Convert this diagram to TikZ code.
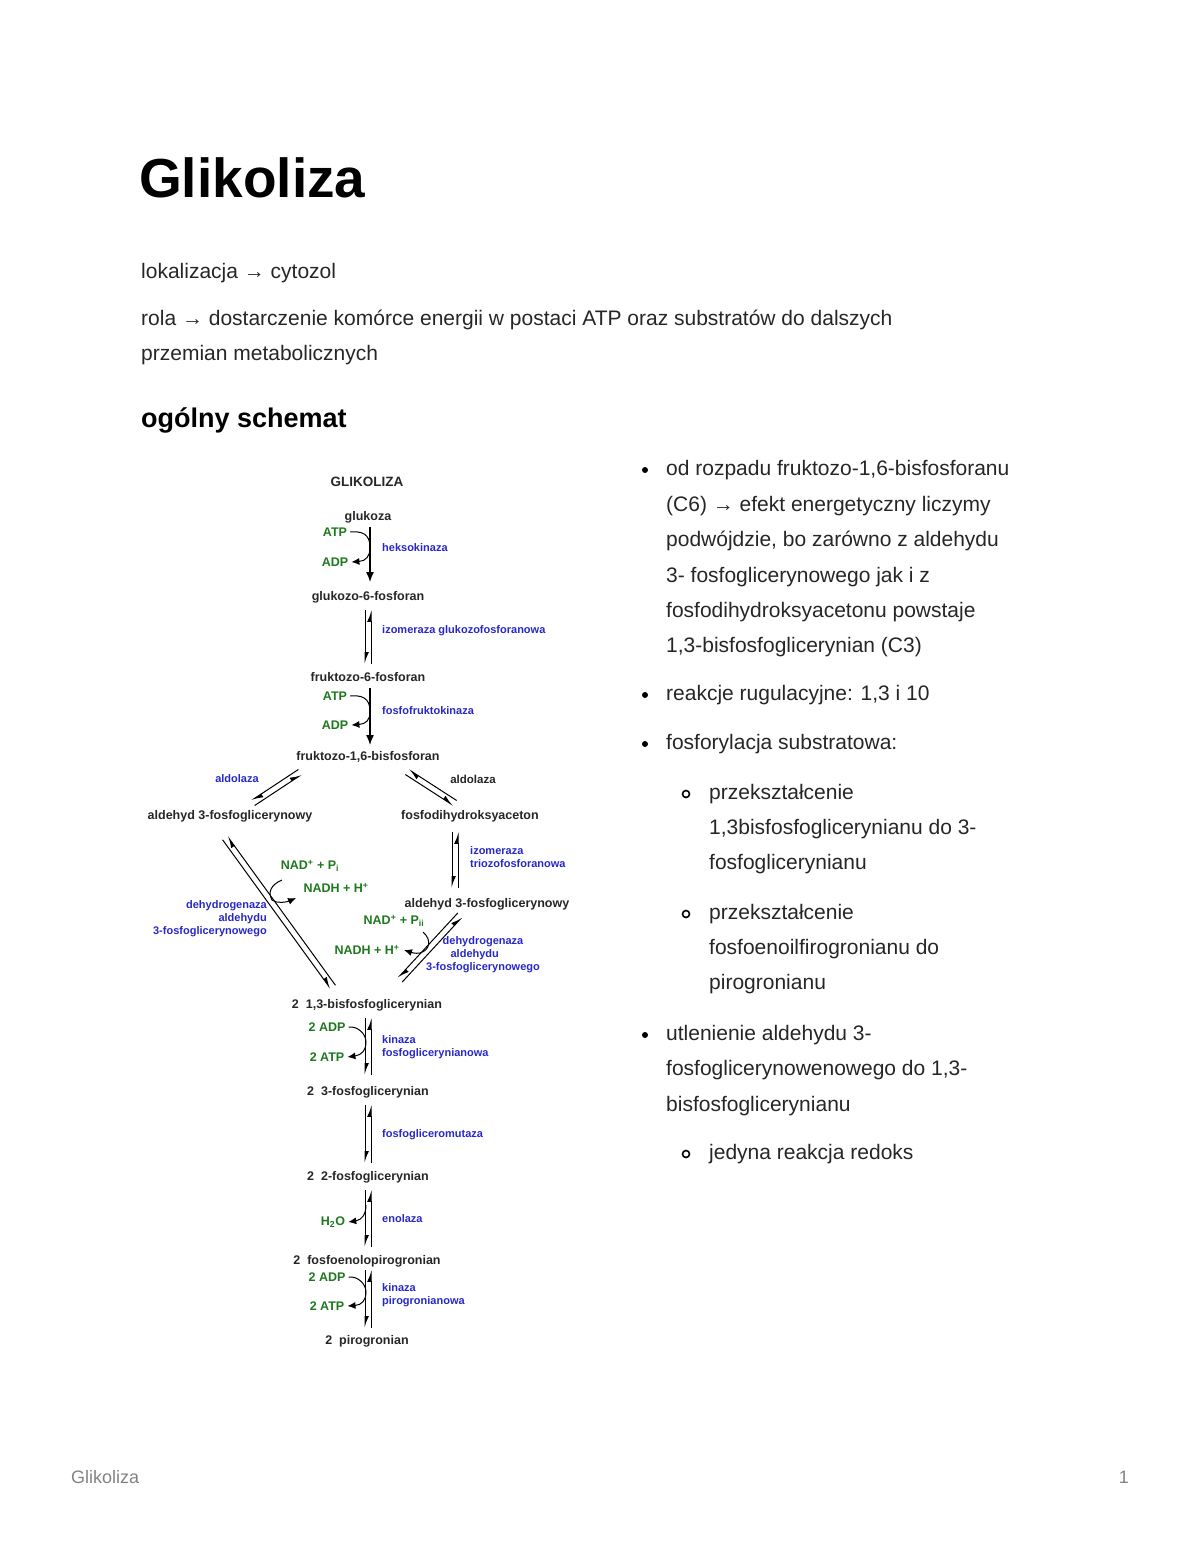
\documentclass[tikz,border=0pt]{standalone}
\usepackage{fontspec}
\setmainfont{Liberation Sans}
\usetikzlibrary{arrows.meta,calc}
\definecolor{enz}{RGB}{40,40,200}
\definecolor{cof}{RGB}{30,120,30}
\definecolor{foot}{RGB}{130,130,130}
\tikzset{
 body/.style={anchor=west,inner sep=0,font=\fontsize{21}{25}\selectfont,text=black!85},
 met/.style={inner sep=0,font=\fontsize{12.5}{14}\selectfont\bfseries,text=black!85},
 enzl/.style={inner sep=0,font=\fontsize{11}{13}\selectfont\bfseries,text=enz,anchor=west},
 cofl/.style={inner sep=0,font=\fontsize{12.5}{14}\selectfont\bfseries,text=cof},
 half/.style={line width=1pt,-{Latex[left,length=10pt,width=8pt]}},
 full/.style={line width=1.4pt,-{Latex[length=10pt,width=8pt]}},
 cofc/.style={line width=1pt,-{Latex[length=8pt,width=7pt]}},
 bul/.style={circle,fill=black,inner sep=0,minimum size=6pt},
 sbul/.style={circle,draw=black,line width=1.6pt,inner sep=0,minimum size=7pt}
}
\newcommand{\eqarrow}[2]{%
 \draw[half] ($(#1)!3pt!-90:(#2)$) -- ($(#2)!3pt!90:(#1)$);
 \draw[half] ($(#2)!3pt!-90:(#1)$) -- ($(#1)!3pt!90:(#2)$);}
\begin{document}
\begin{tikzpicture}[x=1pt,y=-1pt]
\useasboundingbox (0,0) rectangle (1200,1553);
% header
\node[anchor=west,inner sep=0,font=\fontsize{55}{60}\selectfont\bfseries] (title) at (139,178) {Glikoliza};
\node[body] (lok) at (141,273) {lokalizacja → cytozol};
\node[body] (rola1) at (141,320) {rola → dostarczenie komórce energii w postaci ATP oraz substratów do dalszych};
\node[body] (rola2) at (141,355) {przemian metabolicznych};
\node[anchor=west,inner sep=0,font=\fontsize{27}{30}\selectfont\bfseries] (sch) at (141,420) {ogólny schemat};
% diagram
\node[met,font=\fontsize{13.5}{15}\selectfont\bfseries] (gl) at (367,482) {GLIKOLIZA};
\node[met] (glu) at (368,517) {glukoza};
\node[cofl] (atp1) at (335,532) {ATP};
\node[cofl] (adp1) at (335,562) {ADP};
\node[enzl] (e1) at (382,548) {heksokinaza};
\node[met] (g6p) at (368,597) {glukozo-6-fosforan};
\node[enzl] (e2) at (382,631) {izomeraza glukozofosforanowa};
\node[met] (f6p) at (368,677) {fruktozo-6-fosforan};
\node[cofl] (atp2) at (335,696) {ATP};
\node[cofl] (adp2) at (335,725) {ADP};
\node[enzl] (e3) at (382,711) {fosfofruktokinaza};
\node[met] (f16) at (368,757) {fruktozo-1,6-bisfosforan};
\node[enzl,anchor=center] (al1) at (237,779) {aldolaza};
\node[met,font=\fontsize{11.5}{13}\selectfont\bfseries] (al2) at (473,779) {aldolaza};
\node[met] (gap1) at (230,816) {aldehyd 3-fosfoglicerynowy};
\node[met] (dhap) at (470,816) {fosfodihydroksyaceton};
\node[cofl] (nad1) at (310,866) {NAD\textsuperscript{+} + P\textsubscript{i}};
\node[cofl] (nadh1) at (336,888) {NADH + H\textsuperscript{+}};
\node[enzl,anchor=east,align=right] (e5) at (267,919) {dehydrogenaza\\aldehydu\\3-fosfoglicerynowego};
\node[enzl,align=left] (e6) at (470,857) {izomeraza\\triozofosforanowa};
\node[met] (gap2) at (487,904) {aldehyd 3-fosfoglicerynowy};
\node[cofl] (nad2) at (394,921) {NAD\textsuperscript{+} + P\textsubscript{ii}};
\node[cofl] (nadh2) at (367,950) {NADH + H\textsuperscript{+}};
\node[enzl,anchor=center,align=center] (e7) at (483,955) {dehydrogenaza\\\hspace*{-1.5em}aldehydu\\3-fosfoglicerynowego};
\node[met] (bpg) at (367,1005) {2\ \ 1,3-bisfosfoglicerynian};
\node[cofl] (adp3) at (327,1027) {2 ADP};
\node[cofl] (atp3) at (327,1057) {2 ATP};
\node[enzl,align=left] (e8) at (382,1047) {kinaza\\fosfoglicerynianowa};
\node[met] (p3g) at (368,1092) {2\ \ 3-fosfoglicerynian};
\node[enzl] (e9) at (382,1135) {fosfogliceromutaza};
\node[met] (p2g) at (368,1177) {2\ \ 2-fosfoglicerynian};
\node[cofl] (h2o) at (333,1222) {H\textsubscript{2}O};
\node[enzl] (e10) at (382,1219) {enolaza};
\node[met] (pep) at (367,1261) {2\ \ fosfoenolopirogronian};
\node[cofl] (adp4) at (327,1277) {2 ADP};
\node[cofl] (atp4) at (327,1306) {2 ATP};
\node[enzl,align=left] (e11) at (382,1295) {kinaza\\pirogronianowa};
\node[met] (pyr) at (367,1341) {2\ \ pirogronian};
% arrows
\coordinate (a1s) at (370,527); \coordinate (a1e) at (370,582);
\draw[full] (a1s) -- (a1e);
\draw[cofc] (atp1.east)++(3,0) .. controls (368,530) and (370,540) .. (370,548) .. controls (370,556) and (366,561) .. ([xshift=3pt]adp1.east);
\coordinate (a2s) at (368,610); \coordinate (a2e) at (368,664); \eqarrow{a2s}{a2e}
\coordinate (a3s) at (370,688); \coordinate (a3e) at (370,745);
\draw[full] (a3s) -- (a3e);
\draw[cofc] (atp2.east)++(3,0) .. controls (368,694) and (370,704) .. (370,712) .. controls (370,720) and (366,724) .. ([xshift=3pt]adp2.east);
\coordinate (a4s) at (300,772); \coordinate (a4e) at (253,803); \eqarrow{a4s}{a4e}
\coordinate (a5s) at (407,772); \coordinate (a5e) at (455,803); \eqarrow{a5s}{a5e}
\coordinate (a6s) at (225,838); \coordinate (a6e) at (333,987); \eqarrow{a6s}{a6e}
\draw[cofc] (282,880) .. controls (270,885) and (268,893) .. (272,900) .. controls (277,904) and (287,902) .. (296,898);
\coordinate (a7s) at (455,832); \coordinate (a7e) at (455,888); \eqarrow{a7s}{a7e}
\coordinate (a8s) at (460,915); \coordinate (a8e) at (400,980); \eqarrow{a8s}{a8e}
\draw[cofc] (423,932) .. controls (432,940) and (430,950) .. (420,953) .. controls (415,954) and (410,952) .. (404,950);
\coordinate (a9s) at (368,1018); \coordinate (a9e) at (368,1075); \eqarrow{a9s}{a9e}
\draw[cofc] ([xshift=3pt]adp3.east) .. controls (358,1026) and (366,1034) .. (366,1042) .. controls (366,1050) and (362,1055) .. ([xshift=3pt]atp3.east);
\coordinate (a10s) at (368,1105); \coordinate (a10e) at (368,1163); \eqarrow{a10s}{a10e}
\coordinate (a11s) at (368,1190); \coordinate (a11e) at (368,1247); \eqarrow{a11s}{a11e}
\draw[cofc] (366,1205) .. controls (366,1214) and (362,1220) .. ([xshift=3pt]h2o.east);
\coordinate (a12s) at (368,1270); \coordinate (a12e) at (368,1328); \eqarrow{a12s}{a12e}
\draw[cofc] ([xshift=3pt]adp4.east) .. controls (358,1276) and (366,1284) .. (366,1292) .. controls (366,1300) and (362,1305) .. ([xshift=3pt]atp4.east);
% right column
\node[bul] (b1) at (645,470) {};
\node[body] (t1) at (666,470) {od rozpadu fruktozo-1,6-bisfosforanu};
\node[body] (t2) at (666,506) {(C6) → efekt energetyczny liczymy};
\node[body] (t3) at (666,541) {podwójdzie, bo zarówno z aldehydu};
\node[body] (t4) at (666,577) {3- fosfoglicerynowego jak i z};
\node[body] (t5) at (666,612) {fosfodihydroksyacetonu powstaje};
\node[body] (t6) at (666,647) {1,3-bisfosfoglicerynian (C3)};
\node[bul] (b2) at (645,695) {};
\node[body] (t7) at (666,695) {reakcje rugulacyjne: 1,3 i 10};
\node[bul] (b3) at (645,744) {};
\node[body] (t8) at (666,744) {fosforylacja substratowa:};
\node[sbul] (s1) at (686,794) {};
\node[body] (t9) at (709,794) {przekształcenie};
\node[body] (t10) at (709,829) {1,3bisfosfoglicerynianu do 3-};
\node[body] (t11) at (709,864) {fosfoglicerynianu};
\node[sbul] (s2) at (686,914) {};
\node[body] (t12) at (709,914) {przekształcenie};
\node[body] (t13) at (709,949) {fosfoenoilfirogronianu do};
\node[body] (t14) at (709,984) {pirogronianu};
\node[bul] (b4) at (645,1035) {};
\node[body] (t15) at (666,1035) {utlenienie aldehydu 3-};
\node[body] (t16) at (666,1070) {fosfoglicerynowenowego do 1,3-};
\node[body] (t17) at (666,1106) {bisfosfoglicerynianu};
\node[sbul] (s3) at (686,1154) {};
\node[body] (t18) at (709,1154) {jedyna reakcja redoks};
% footer
\node[body,text=foot,font=\fontsize{18}{20}\selectfont] (f1) at (71,1477) {Glikoliza};
\node[body,text=foot,font=\fontsize{18}{20}\selectfont,anchor=east] (f2) at (1129,1477) {1};
\end{tikzpicture}
\end{document}
